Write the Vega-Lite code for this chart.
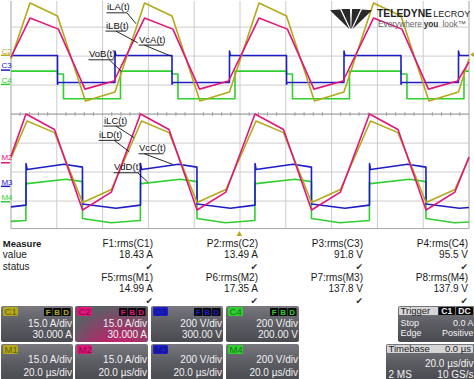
{
"$schema": "https://vega.github.io/schema/vega-lite/v6.json",
"padding": 0,
"background": "#ffffff",
"spacing": 0,
"bounds": "flush",
"config": {"view": {"stroke": null}, "font": "Liberation Sans"},
"datasets": {
"traces": [
{"ch":"C4","t":0,"v":1.48},{"ch":"C4","t":20.3,"v":1.48},{"ch":"C4","t":20.32,"v":1.38},{"ch":"C4","t":22.9,"v":1.38},{"ch":"C4","t":22.92,"v":0.53},{"ch":"C4","t":47.8,"v":0.53},{"ch":"C4","t":47.82,"v":1.48},{"ch":"C4","t":70.3,"v":1.48},{"ch":"C4","t":70.32,"v":1.38},{"ch":"C4","t":72.9,"v":1.38},{"ch":"C4","t":72.92,"v":0.53},{"ch":"C4","t":97.8,"v":0.53},{"ch":"C4","t":97.82,"v":1.48},{"ch":"C4","t":120.3,"v":1.48},{"ch":"C4","t":120.32,"v":1.38},{"ch":"C4","t":122.9,"v":1.38},{"ch":"C4","t":122.92,"v":0.53},{"ch":"C4","t":147.8,"v":0.53},{"ch":"C4","t":147.82,"v":1.48},{"ch":"C4","t":170.3,"v":1.48},{"ch":"C4","t":170.32,"v":1.38},{"ch":"C4","t":172.9,"v":1.38},{"ch":"C4","t":172.92,"v":0.53},{"ch":"C4","t":197.8,"v":0.53},{"ch":"C4","t":197.82,"v":1.48},{"ch":"C4","t":200,"v":1.48},
{"ch":"C3","t":0,"v":2.02},{"ch":"C3","t":20.3,"v":2.02},{"ch":"C3","t":20.32,"v":1.03},{"ch":"C3","t":20.6,"v":1.09},{"ch":"C3","t":45.4,"v":1.09},{"ch":"C3","t":45.42,"v":2.17},{"ch":"C3","t":45.8,"v":2.02},{"ch":"C3","t":70.3,"v":2.02},{"ch":"C3","t":70.32,"v":1.03},{"ch":"C3","t":70.6,"v":1.09},{"ch":"C3","t":95.4,"v":1.09},{"ch":"C3","t":95.42,"v":2.17},{"ch":"C3","t":95.8,"v":2.02},{"ch":"C3","t":120.3,"v":2.02},{"ch":"C3","t":120.32,"v":1.03},{"ch":"C3","t":120.6,"v":1.09},{"ch":"C3","t":145.4,"v":1.09},{"ch":"C3","t":145.42,"v":2.17},{"ch":"C3","t":145.8,"v":2.02},{"ch":"C3","t":170.3,"v":2.02},{"ch":"C3","t":170.32,"v":1.03},{"ch":"C3","t":170.6,"v":1.09},{"ch":"C3","t":195.4,"v":1.09},{"ch":"C3","t":195.42,"v":2.17},{"ch":"C3","t":195.8,"v":2.02},{"ch":"C3","t":200,"v":2.02},
{"ch":"C1","t":0,"v":1.9},{"ch":"C1","t":8.3,"v":3.83},{"ch":"C1","t":20.3,"v":3.38},{"ch":"C1","t":32.5,"v":0.45},{"ch":"C1","t":45.4,"v":0.76},{"ch":"C1","t":58.3,"v":3.83},{"ch":"C1","t":70.3,"v":3.38},{"ch":"C1","t":82.5,"v":0.45},{"ch":"C1","t":95.4,"v":0.76},{"ch":"C1","t":108.3,"v":3.83},{"ch":"C1","t":120.3,"v":3.38},{"ch":"C1","t":132.5,"v":0.45},{"ch":"C1","t":145.4,"v":0.76},{"ch":"C1","t":158.3,"v":3.83},{"ch":"C1","t":170.3,"v":3.38},{"ch":"C1","t":182.5,"v":0.45},{"ch":"C1","t":195.4,"v":0.76},{"ch":"C1","t":200,"v":1.9},
{"ch":"C2","t":0,"v":1.96},{"ch":"C2","t":8.3,"v":3.31},{"ch":"C2","t":20.7,"v":2.93},{"ch":"C2","t":32.3,"v":0.86},{"ch":"C2","t":45.0,"v":1.14},{"ch":"C2","t":58.3,"v":3.31},{"ch":"C2","t":70.7,"v":2.93},{"ch":"C2","t":82.3,"v":0.86},{"ch":"C2","t":95.0,"v":1.14},{"ch":"C2","t":108.3,"v":3.31},{"ch":"C2","t":120.7,"v":2.93},{"ch":"C2","t":132.3,"v":0.86},{"ch":"C2","t":145.0,"v":1.14},{"ch":"C2","t":158.3,"v":3.31},{"ch":"C2","t":170.7,"v":2.93},{"ch":"C2","t":182.3,"v":0.86},{"ch":"C2","t":195.0,"v":1.14},{"ch":"C2","t":200,"v":1.8},
{"ch":"M4","t":0,"v":-3.7},{"ch":"M4","t":6.5,"v":-3.67},{"ch":"M4","t":6.52,"v":-2.35},{"ch":"M4","t":7.0,"v":-2.4},{"ch":"M4","t":24.0,"v":-2.25},{"ch":"M4","t":31.2,"v":-2.33},{"ch":"M4","t":31.22,"v":-3.6},{"ch":"M4","t":43.65,"v":-3.75},{"ch":"M4","t":56.5,"v":-3.67},{"ch":"M4","t":56.52,"v":-2.35},{"ch":"M4","t":57.0,"v":-2.4},{"ch":"M4","t":74.0,"v":-2.25},{"ch":"M4","t":81.2,"v":-2.33},{"ch":"M4","t":81.22,"v":-3.6},{"ch":"M4","t":93.65,"v":-3.75},{"ch":"M4","t":106.5,"v":-3.67},{"ch":"M4","t":106.52,"v":-2.35},{"ch":"M4","t":107.0,"v":-2.4},{"ch":"M4","t":124.0,"v":-2.25},{"ch":"M4","t":131.2,"v":-2.33},{"ch":"M4","t":131.22,"v":-3.6},{"ch":"M4","t":143.65,"v":-3.75},{"ch":"M4","t":156.5,"v":-3.67},{"ch":"M4","t":156.52,"v":-2.35},{"ch":"M4","t":157.0,"v":-2.4},{"ch":"M4","t":174.0,"v":-2.25},{"ch":"M4","t":181.2,"v":-2.33},{"ch":"M4","t":181.22,"v":-3.6},{"ch":"M4","t":193.65,"v":-3.75},{"ch":"M4","t":200,"v":-3.72},
{"ch":"M3","t":0,"v":-3.2},{"ch":"M3","t":6.55,"v":-3.14},{"ch":"M3","t":6.57,"v":-1.71},{"ch":"M3","t":7.0,"v":-1.91},{"ch":"M3","t":23.15,"v":-1.73},{"ch":"M3","t":31.2,"v":-1.83},{"ch":"M3","t":31.22,"v":-3.1},{"ch":"M3","t":45.85,"v":-3.25},{"ch":"M3","t":56.55,"v":-3.14},{"ch":"M3","t":56.57,"v":-1.71},{"ch":"M3","t":57.0,"v":-1.91},{"ch":"M3","t":73.15,"v":-1.73},{"ch":"M3","t":81.2,"v":-1.83},{"ch":"M3","t":81.22,"v":-3.1},{"ch":"M3","t":95.85,"v":-3.25},{"ch":"M3","t":106.55,"v":-3.14},{"ch":"M3","t":106.57,"v":-1.71},{"ch":"M3","t":107.0,"v":-1.91},{"ch":"M3","t":123.15,"v":-1.73},{"ch":"M3","t":131.2,"v":-1.83},{"ch":"M3","t":131.22,"v":-3.1},{"ch":"M3","t":145.85,"v":-3.25},{"ch":"M3","t":156.55,"v":-3.14},{"ch":"M3","t":156.57,"v":-1.71},{"ch":"M3","t":157.0,"v":-1.91},{"ch":"M3","t":173.15,"v":-1.73},{"ch":"M3","t":181.2,"v":-1.83},{"ch":"M3","t":181.22,"v":-3.1},{"ch":"M3","t":195.85,"v":-3.25},{"ch":"M3","t":200,"v":-3.22},
{"ch":"M1","t":0,"v":-1.52},{"ch":"M1","t":7.0,"v":-0.24},{"ch":"M1","t":19.0,"v":-0.64},{"ch":"M1","t":31.25,"v":-3.05},{"ch":"M1","t":43.85,"v":-2.6},{"ch":"M1","t":57.0,"v":-0.24},{"ch":"M1","t":69.0,"v":-0.64},{"ch":"M1","t":81.25,"v":-3.05},{"ch":"M1","t":93.85,"v":-2.6},{"ch":"M1","t":107.0,"v":-0.24},{"ch":"M1","t":119.0,"v":-0.64},{"ch":"M1","t":131.25,"v":-3.05},{"ch":"M1","t":143.85,"v":-2.6},{"ch":"M1","t":157.0,"v":-0.24},{"ch":"M1","t":169.0,"v":-0.64},{"ch":"M1","t":181.25,"v":-3.05},{"ch":"M1","t":193.85,"v":-2.6},{"ch":"M1","t":200,"v":-1.52},
{"ch":"M2","t":0,"v":-1.45},{"ch":"M2","t":6.55,"v":0},{"ch":"M2","t":19.0,"v":-0.53},{"ch":"M2","t":31.25,"v":-3.31},{"ch":"M2","t":43.85,"v":-2.69},{"ch":"M2","t":56.55,"v":0},{"ch":"M2","t":69.0,"v":-0.53},{"ch":"M2","t":81.25,"v":-3.31},{"ch":"M2","t":93.85,"v":-2.69},{"ch":"M2","t":106.55,"v":0},{"ch":"M2","t":119.0,"v":-0.53},{"ch":"M2","t":131.25,"v":-3.31},{"ch":"M2","t":143.85,"v":-2.69},{"ch":"M2","t":156.55,"v":0},{"ch":"M2","t":169.0,"v":-0.53},{"ch":"M2","t":181.25,"v":-3.31},{"ch":"M2","t":193.85,"v":-2.69},{"ch":"M2","t":200,"v":-1.48}
],
"annot": [
{"label":"iLA(t)","tx":41.92,"ty":3.573,"ux1":41.7,"ux2":50.66,"uy":3.493,"lx1":50.66,"ly1":3.493,"lx2":54.59,"ly2":3.114},
{"label":"iLB(t)","tx":41.48,"ty":2.942,"ux1":41.27,"ux2":50.22,"uy":2.862,"lx1":45.85,"ly1":2.862,"lx2":55.33,"ly2":2.459},
{"label":"VcA(t)","tx":55.9,"ty":2.459,"ux1":55.68,"ux2":66.59,"uy":2.379,"lx1":58.21,"ly1":2.379,"lx2":69.87,"ly2":2.0},
{"label":"VoB(t)","tx":34.06,"ty":1.952,"ux1":33.84,"ux2":44.76,"uy":1.872,"lx1":42.93,"ly1":1.872,"lx2":48.34,"ly2":1.459},
{"label":"iLC(t)","tx":40.61,"ty":-0.334,"ux1":40.39,"ux2":49.56,"uy":-0.414,"lx1":45.85,"ly1":-0.414,"lx2":53.84,"ly2":-0.817},
{"label":"iLD(t)","tx":38.43,"ty":-0.827,"ux1":38.21,"ux2":47.38,"uy":-0.907,"lx1":45.11,"ly1":-0.907,"lx2":51.66,"ly2":-1.3},
{"label":"VcC(t)","tx":55.9,"ty":-1.289,"ux1":55.68,"ux2":66.59,"uy":-1.369,"lx1":58.21,"ly1":-1.369,"lx2":70.61,"ly2":-1.734},
{"label":"VdD(t)","tx":44.98,"ty":-1.944,"ux1":44.76,"ux2":55.68,"uy":-2.024,"lx1":55.33,"ly1":-2.024,"lx2":59.69,"ly2":-2.345}
],
"chlabels": [
{"text":"C2","ck":"C1","v":2.079,"uv":2.03},
{"text":"C3","ck":"C3","v":1.597,"uv":1.517},
{"text":"C4","ck":"C4","v":1.079,"uv":1.024},
{"text":"M2","ck":"M2","v":-1.597,"uv":-1.679},
{"text":"M3","ck":"M3","v":-2.448,"uv":-2.493},
{"text":"M4","ck":"M4","v":-2.966,"uv":-3.024}
],
"minor": [
{"t":4},{"t":8},{"t":12},{"t":16},{"t":24},{"t":28},{"t":32},{"t":36},{"t":44},{"t":48},{"t":52},{"t":56},{"t":64},{"t":68},{"t":72},{"t":76},{"t":84},{"t":88},{"t":92},{"t":96},
{"t":104},{"t":108},{"t":112},{"t":116},{"t":124},{"t":128},{"t":132},{"t":136},{"t":144},{"t":148},{"t":152},{"t":156},{"t":164},{"t":168},{"t":172},{"t":176},{"t":184},{"t":188},{"t":192},{"t":196}
],
"boxes": [
{"id":"C1","x0":0,"x1":0.96,"y0":0,"y1":0.973},
{"id":"C2","x0":0.987,"x1":1.96,"y0":0,"y1":0.973},
{"id":"C3","x0":2.0,"x1":2.96,"y0":0,"y1":0.973},
{"id":"C4","x0":3.0,"x1":3.973,"y0":0,"y1":0.973},
{"id":"M1","x0":0,"x1":0.96,"y0":1.027,"y1":2.0},
{"id":"M2","x0":0.987,"x1":1.96,"y0":1.027,"y1":2.0},
{"id":"M3","x0":2.0,"x1":2.96,"y0":1.027,"y1":2.0},
{"id":"M4","x0":3.0,"x1":3.973,"y0":1.027,"y1":2.0},
{"id":"Trigger","x0":5.293,"x1":6.32,"y0":0,"y1":0.973},
{"id":"Timebase","x0":5.133,"x1":6.32,"y0":1.027,"y1":2.0}
],
"tabs": [
{"ch":"C1","x0":0.027,"x1":0.227,"y0":0.027,"y1":0.27,"tx":0.047,"ty":0.243},
{"ch":"C2","x0":1.013,"x1":1.213,"y0":0.027,"y1":0.27,"tx":1.033,"ty":0.243},
{"ch":"C3","x0":2.027,"x1":2.227,"y0":0.027,"y1":0.27,"tx":2.047,"ty":0.243},
{"ch":"C4","x0":3.027,"x1":3.227,"y0":0.027,"y1":0.27,"tx":3.047,"ty":0.243},
{"ch":"M1","x0":0.027,"x1":0.227,"y0":1.054,"y1":1.297,"tx":0.047,"ty":1.27},
{"ch":"M2","x0":1.013,"x1":1.213,"y0":1.054,"y1":1.297,"tx":1.033,"ty":1.27},
{"ch":"M3","x0":2.027,"x1":2.227,"y0":1.054,"y1":1.297,"tx":2.047,"ty":1.27},
{"ch":"M4","x0":3.027,"x1":3.227,"y0":1.054,"y1":1.297,"tx":3.047,"ty":1.27}
],
"fbd": [
{"ch":"C1","l":"F","x0":0.573,"x1":0.687,"xc":0.63},{"ch":"C1","l":"B","x0":0.693,"x1":0.807,"xc":0.75},{"ch":"C1","l":"D","x0":0.813,"x1":0.927,"xc":0.87},
{"ch":"C2","l":"F","x0":1.573,"x1":1.687,"xc":1.63},{"ch":"C2","l":"B","x0":1.693,"x1":1.807,"xc":1.75},{"ch":"C2","l":"D","x0":1.813,"x1":1.927,"xc":1.87},
{"ch":"C3","l":"F","x0":2.573,"x1":2.687,"xc":2.63},{"ch":"C3","l":"B","x0":2.693,"x1":2.807,"xc":2.75},{"ch":"C3","l":"D","x0":2.813,"x1":2.927,"xc":2.87},
{"ch":"C4","l":"F","x0":3.587,"x1":3.7,"xc":3.643},{"ch":"C4","l":"B","x0":3.707,"x1":3.82,"xc":3.763},{"ch":"C4","l":"D","x0":3.827,"x1":3.94,"xc":3.883}
],
"boxtext": [
{"text":"15.0 A/div","x":0.947,"y":0.559},{"text":"30.000 A","x":0.947,"y":0.873},
{"text":"15.0 A/div","x":1.947,"y":0.559},{"text":"30.000 A","x":1.947,"y":0.873},
{"text":"200 V/div","x":2.947,"y":0.559},{"text":"300.00 V","x":2.947,"y":0.873},
{"text":"200 V/div","x":3.96,"y":0.559},{"text":"200.00 V","x":3.96,"y":0.873},
{"text":"15.0 A/div","x":0.947,"y":1.549},{"text":"20.0 µs/div","x":0.947,"y":1.892},
{"text":"15.0 A/div","x":1.947,"y":1.549},{"text":"20.0 µs/div","x":1.947,"y":1.892},
{"text":"200 V/div","x":2.947,"y":1.549},{"text":"20.0 µs/div","x":2.947,"y":1.892},
{"text":"200 V/div","x":3.96,"y":1.549},{"text":"20.0 µs/div","x":3.96,"y":1.892},
{"text":"20.0 µs/div","x":6.3,"y":1.649},{"text":"10 GS/s","x":6.3,"y":1.938}
],
"trigtext": [
{"text":"0.0 A","x":6.3,"y":0.541},{"text":"Positive","x":6.3,"y":0.818}
],
"trigtextleft": [
{"text":"Stop","x":5.327,"y":0.541},{"text":"Edge","x":5.327,"y":0.818}
],
"boxtextleft": [
{"text":"2 MS","x":5.167,"y":1.938}
],
"headers": [
{"x0":5.307,"x1":5.827,"y0":0.027,"y1":0.243},
{"x0":5.147,"x1":6.293,"y0":1.054,"y1":1.27}
],
"measure": [
{"row":1,"col":1,"text":"F1:rms(C1)"},{"row":1,"col":2,"text":"P2:rms(C2)"},{"row":1,"col":3,"text":"P3:rms(C3)"},{"row":1,"col":4,"text":"P4:rms(C4)"},
{"row":2,"col":1,"text":"18.43 A"},{"row":2,"col":2,"text":"13.49 A"},{"row":2,"col":3,"text":"91.8 V"},{"row":2,"col":4,"text":"95.5 V"},
{"row":4,"col":1,"text":"F5:rms(M1)"},{"row":4,"col":2,"text":"P6:rms(M2)"},{"row":4,"col":3,"text":"P7:rms(M3)"},{"row":4,"col":4,"text":"P8:rms(M4)"},
{"row":5,"col":1,"text":"14.99 A"},{"row":5,"col":2,"text":"17.35 A"},{"row":5,"col":3,"text":"137.8 V"},{"row":5,"col":4,"text":"137.9 V"}
],
"checks": [
{"row":3,"col":1},{"row":3,"col":2},{"row":3,"col":3},{"row":3,"col":4},
{"row":6,"col":1},{"row":6,"col":2},{"row":6,"col":3},{"row":6,"col":4}
]
},
"vconcat": [
{
"width": 474, "height": 236,
"layer": [
{"data":{"values":[{"t":20},{"t":40},{"t":60},{"t":80},{"t":100},{"t":120},{"t":140},{"t":160},{"t":180}]},
 "mark":{"type":"rule","color":"#cccccc","strokeWidth":1},
 "encoding":{"x":{"field":"t","type":"quantitative","scale":{"domain":[-4.367,202.62],"nice":false,"zero":false},"axis":null},
  "y":{"datum":-3.95,"type":"quantitative","scale":{"domain":[-4.24,3.9],"nice":false,"zero":false},"axis":null},"y2":{"datum":3.9}}},
{"data":{"values":[{"t":0},{"t":200}]},
 "mark":{"type":"rule","color":"#a4a4a4","strokeWidth":1},
 "encoding":{"x":{"field":"t","type":"quantitative","scale":{"domain":[-4.367,202.62],"nice":false,"zero":false},"axis":null},
  "y":{"datum":-3.95,"type":"quantitative","scale":{"domain":[-4.24,3.9],"nice":false,"zero":false},"axis":null},"y2":{"datum":3.9}}},
{"data":{"values":[{"v":3},{"v":2},{"v":1},{"v":-1},{"v":-2},{"v":-3}]},
 "mark":{"type":"rule","color":"#cccccc","strokeWidth":1},
 "encoding":{"y":{"field":"v","type":"quantitative","scale":{"domain":[-4.24,3.9],"nice":false,"zero":false},"axis":null},
  "x":{"datum":0,"type":"quantitative","scale":{"domain":[-4.367,202.62],"nice":false,"zero":false},"axis":null},"x2":{"datum":200}}},
{"data":{"values":[{"v":0}]},
 "mark":{"type":"rule","color":"#888888","strokeWidth":1},
 "encoding":{"y":{"field":"v","type":"quantitative","scale":{"domain":[-4.24,3.9],"nice":false,"zero":false},"axis":null},
  "x":{"datum":0,"type":"quantitative","scale":{"domain":[-4.367,202.62],"nice":false,"zero":false},"axis":null},"x2":{"datum":200}}},
{"data":{"name":"minor"},
 "mark":{"type":"tick","orient":"vertical","color":"#8a8a8a","size":4,"thickness":1},
 "encoding":{"x":{"field":"t","type":"quantitative","scale":{"domain":[-4.367,202.62],"nice":false,"zero":false},"axis":null},
  "y":{"datum":0,"type":"quantitative","scale":{"domain":[-4.24,3.9],"nice":false,"zero":false},"axis":null}}},
{"data":{"values":[{"v":-3.95}]},
 "mark":{"type":"rule","color":"#a4a4a4","strokeWidth":1},
 "encoding":{"y":{"field":"v","type":"quantitative","scale":{"domain":[-4.24,3.9],"nice":false,"zero":false},"axis":null},
  "x":{"datum":0,"type":"quantitative","scale":{"domain":[-4.367,202.62],"nice":false,"zero":false},"axis":null},"x2":{"datum":200}}},
{"data":{"name":"traces"},
 "mark":{"type":"line","strokeWidth":1.6,"clip":true,"strokeJoin":"round"},
 "encoding":{"x":{"field":"t","type":"quantitative","scale":{"domain":[-4.367,202.62],"nice":false,"zero":false},"axis":null},
  "y":{"field":"v","type":"quantitative","scale":{"domain":[-4.24,3.9],"nice":false,"zero":false},"axis":null},
  "color":{"field":"ch","type":"nominal","scale":{"domain":["C1","C2","C3","C4","M1","M2","M3","M4"],"range":["#b3a91a","#e0167a","#1c1cc8","#2fcf2f","#b3a91a","#e0167a","#1c1cc8","#2fcf2f"]},"legend":null}}},
{"data":{"name":"annot"},
 "mark":{"type":"rule","color":"#111111","strokeWidth":0.9},
 "encoding":{"x":{"field":"ux1","type":"quantitative","scale":{"domain":[-4.367,202.62],"nice":false,"zero":false},"axis":null},"x2":{"field":"ux2"},
  "y":{"field":"uy","type":"quantitative","scale":{"domain":[-4.24,3.9],"nice":false,"zero":false},"axis":null}}},
{"data":{"name":"annot"},
 "mark":{"type":"rule","color":"#111111","strokeWidth":0.9},
 "encoding":{"x":{"field":"lx1","type":"quantitative","scale":{"domain":[-4.367,202.62],"nice":false,"zero":false},"axis":null},"x2":{"field":"lx2"},
  "y":{"field":"ly1","type":"quantitative","scale":{"domain":[-4.24,3.9],"nice":false,"zero":false},"axis":null},"y2":{"field":"ly2"}}},
{"data":{"name":"annot"},
 "mark":{"type":"text","align":"left","baseline":"alphabetic","fontSize":9.5,"color":"#111111"},
 "encoding":{"x":{"field":"tx","type":"quantitative","scale":{"domain":[-4.367,202.62],"nice":false,"zero":false},"axis":null},
  "y":{"field":"ty","type":"quantitative","scale":{"domain":[-4.24,3.9],"nice":false,"zero":false},"axis":null},
  "text":{"field":"label"}}},
{"data":{"name":"chlabels"},
 "mark":{"type":"rule","strokeWidth":1.5},
 "encoding":{"x":{"datum":-4.367,"type":"quantitative","scale":{"domain":[-4.367,202.62],"nice":false,"zero":false},"axis":null},"x2":{"datum":-0.4},
  "y":{"field":"uv","type":"quantitative","scale":{"domain":[-4.24,3.9],"nice":false,"zero":false},"axis":null},
  "color":{"field":"ck","type":"nominal","scale":{"domain":["C1","C2","C3","C4","M1","M2","M3","M4"],"range":["#b3a91a","#e0167a","#1c1cc8","#2fcf2f","#b3a91a","#e0167a","#1c1cc8","#2fcf2f"]},"legend":null}}},
{"data":{"name":"chlabels"},
 "mark":{"type":"text","align":"left","baseline":"alphabetic","fontSize":8},
 "encoding":{"x":{"datum":-4.2,"type":"quantitative","scale":{"domain":[-4.367,202.62],"nice":false,"zero":false},"axis":null},
  "y":{"field":"v","type":"quantitative","scale":{"domain":[-4.24,3.9],"nice":false,"zero":false},"axis":null},
  "text":{"field":"text"},
  "color":{"field":"ck","type":"nominal","scale":{"domain":["C1","C2","C3","C4","M1","M2","M3","M4"],"range":["#b3a91a","#e0167a","#1c1cc8","#2fcf2f","#b3a91a","#e0167a","#1c1cc8","#2fcf2f"]},"legend":null}}},
{"data":{"values":[{"t":148.47,"v":3.276}]},
 "mark":{"type":"point","filled":true,"color":"#2a2a2a","opacity":1,"size":1764,"shape":"M-1,-0.42L-0.52,-0.46L-0.07,0.48Z M-0.46,-0.48L-0.05,-0.48L-0.01,0.48Z M0.05,-0.48L0.46,-0.48L0.01,0.48Z M0.52,-0.46L1,-0.42L0.07,0.48Z"},
 "encoding":{"x":{"field":"t","type":"quantitative","scale":{"domain":[-4.367,202.62],"nice":false,"zero":false},"axis":null},
  "y":{"field":"v","type":"quantitative","scale":{"domain":[-4.24,3.9],"nice":false,"zero":false},"axis":null}}},
{"data":{"values":[{"text":"TELEDYNE","t":159.83,"v":3.335}]},
 "mark":{"type":"text","align":"left","baseline":"alphabetic","fontSize":10.3,"fontWeight":"bold","color":"#222222"},
 "encoding":{"x":{"field":"t","type":"quantitative","scale":{"domain":[-4.367,202.62],"nice":false,"zero":false},"axis":null},
  "y":{"field":"v","type":"quantitative","scale":{"domain":[-4.24,3.9],"nice":false,"zero":false},"axis":null},"text":{"field":"text"}}},
{"data":{"values":[{"text":"LECROY","t":200.6,"v":3.335}]},
 "mark":{"type":"text","align":"right","baseline":"alphabetic","fontSize":9,"color":"#222222"},
 "encoding":{"x":{"field":"t","type":"quantitative","scale":{"domain":[-4.367,202.62],"nice":false,"zero":false},"axis":null},
  "y":{"field":"v","type":"quantitative","scale":{"domain":[-4.24,3.9],"nice":false,"zero":false},"axis":null},"text":{"field":"text"}}},
{"data":{"values":[{"text":"Everywhere","t":160.26,"v":3.0},{"text":"look™","t":188.4,"v":3.0}]},
 "mark":{"type":"text","align":"left","baseline":"alphabetic","fontSize":8.3,"color":"#666666"},
 "encoding":{"x":{"field":"t","type":"quantitative","scale":{"domain":[-4.367,202.62],"nice":false,"zero":false},"axis":null},
  "y":{"field":"v","type":"quantitative","scale":{"domain":[-4.24,3.9],"nice":false,"zero":false},"axis":null},"text":{"field":"text"}}},
{"data":{"values":[{"text":"you","t":180.2,"v":3.0}]},
 "mark":{"type":"text","align":"left","baseline":"alphabetic","fontSize":8.3,"fontWeight":"bold","color":"#333333"},
 "encoding":{"x":{"field":"t","type":"quantitative","scale":{"domain":[-4.367,202.62],"nice":false,"zero":false},"axis":null},
  "y":{"field":"v","type":"quantitative","scale":{"domain":[-4.24,3.9],"nice":false,"zero":false},"axis":null},"text":{"field":"text"}}},
{"data":{"values":[{"t":201.6,"v":2.05}]},
 "mark":{"type":"point","shape":"triangle-left","filled":true,"color":"#b8ac12","opacity":1,"size":40},
 "encoding":{"x":{"field":"t","type":"quantitative","scale":{"domain":[-4.367,202.62],"nice":false,"zero":false},"axis":null},
  "y":{"field":"v","type":"quantitative","scale":{"domain":[-4.24,3.9],"nice":false,"zero":false},"axis":null}}},
{"data":{"values":[{"t":99.7,"v":-4.12}]},
 "mark":{"type":"point","shape":"triangle-up","filled":true,"color":"#b8ac12","opacity":1,"size":32},
 "encoding":{"x":{"field":"t","type":"quantitative","scale":{"domain":[-4.367,202.62],"nice":false,"zero":false},"axis":null},
  "y":{"field":"v","type":"quantitative","scale":{"domain":[-4.24,3.9],"nice":false,"zero":false},"axis":null}}}
]
},
{
"width": 474, "height": 69,
"layer": [
{"data":{"name":"measure"},
 "mark":{"type":"text","align":"right","baseline":"alphabetic","fontSize":10,"color":"#1a1a1a"},
 "encoding":{"x":{"field":"col","type":"quantitative","scale":{"domain":[-0.4476,4.0667],"nice":false,"zero":false},"axis":null},
  "y":{"field":"row","type":"quantitative","scale":{"domain":[0.115,6.221],"nice":false,"zero":false,"reverse":true},"axis":null},
  "text":{"field":"text"}}},
{"data":{"name":"checks"},
 "mark":{"type":"text","align":"right","baseline":"alphabetic","fontSize":9,"color":"#2a2a2a","font":"DejaVu Sans"},
 "encoding":{"x":{"field":"col","type":"quantitative","scale":{"domain":[-0.4476,4.0667],"nice":false,"zero":false},"axis":null},
  "y":{"field":"row","type":"quantitative","scale":{"domain":[0.115,6.221],"nice":false,"zero":false,"reverse":true},"axis":null},
  "text":{"value":"✔"}}},
{"data":{"values":[{"row":1,"text":"Measure"}]},
 "mark":{"type":"text","align":"left","baseline":"alphabetic","fontSize":9.5,"fontWeight":"bold","color":"#1a1a1a"},
 "encoding":{"x":{"datum":-0.43,"type":"quantitative","scale":{"domain":[-0.4476,4.0667],"nice":false,"zero":false},"axis":null},
  "y":{"field":"row","type":"quantitative","scale":{"domain":[0.115,6.221],"nice":false,"zero":false,"reverse":true},"axis":null},
  "text":{"field":"text"}}},
{"data":{"values":[{"row":2,"text":"value"},{"row":3,"text":"status"}]},
 "mark":{"type":"text","align":"left","baseline":"alphabetic","fontSize":10,"color":"#1a1a1a"},
 "encoding":{"x":{"datum":-0.43,"type":"quantitative","scale":{"domain":[-0.4476,4.0667],"nice":false,"zero":false},"axis":null},
  "y":{"field":"row","type":"quantitative","scale":{"domain":[0.115,6.221],"nice":false,"zero":false,"reverse":true},"axis":null},
  "text":{"field":"text"}}}
]
},
{
"width": 474, "height": 74,
"layer": [
{"data":{"name":"boxes"},
 "transform":[{"filter":"datum.id != 'C2'"}],
 "mark":{"type":"rect","cornerRadius":2,"color":{"gradient":"linear","x1":0,"y1":0,"x2":0,"y2":1,"stops":[{"offset":0,"color":"#78787e"},{"offset":0.5,"color":"#5c5c63"},{"offset":1,"color":"#4a4a51"}]}},
 "encoding":{"x":{"field":"x0","type":"quantitative","scale":{"domain":[0,6.32],"nice":false,"zero":false},"axis":null},"x2":{"field":"x1"},
  "y":{"field":"y0","type":"quantitative","scale":{"domain":[0,2],"nice":false,"zero":false,"reverse":true},"axis":null},"y2":{"field":"y1"}}},
{"data":{"name":"boxes"},
 "transform":[{"filter":"datum.id == 'C2'"}],
 "mark":{"type":"rect","cornerRadius":2,"color":{"gradient":"radial","x1":0.6,"y1":1,"r1":0,"x2":0.6,"y2":1,"r2":0.75,"stops":[{"offset":0,"color":"#f0157e"},{"offset":0.45,"color":"#b02a6a"},{"offset":1,"color":"#5e5e65"}]}},
 "encoding":{"x":{"field":"x0","type":"quantitative","scale":{"domain":[0,6.32],"nice":false,"zero":false},"axis":null},"x2":{"field":"x1"},
  "y":{"field":"y0","type":"quantitative","scale":{"domain":[0,2],"nice":false,"zero":false,"reverse":true},"axis":null},"y2":{"field":"y1"}}},
{"data":{"name":"tabs"},
 "mark":{"type":"rect","cornerRadius":1.5},
 "encoding":{"x":{"field":"x0","type":"quantitative","scale":{"domain":[0,6.32],"nice":false,"zero":false},"axis":null},"x2":{"field":"x1"},
  "y":{"field":"y0","type":"quantitative","scale":{"domain":[0,2],"nice":false,"zero":false,"reverse":true},"axis":null},"y2":{"field":"y1"},
  "color":{"field":"ch","type":"nominal","scale":{"domain":["C1","C2","C3","C4","M1","M2","M3","M4"],"range":["#c8c01a","#ea157e","#1414e2","#22e822","#c8c01a","#ea157e","#1414e2","#22e822"]},"legend":null}}},
{"data":{"name":"tabs"},
 "mark":{"type":"text","align":"left","baseline":"alphabetic","fontSize":9.5,"color":"#000000","opacity":0.45},
 "encoding":{"x":{"field":"tx","type":"quantitative","scale":{"domain":[0,6.32],"nice":false,"zero":false},"axis":null},
  "y":{"field":"ty","type":"quantitative","scale":{"domain":[0,2],"nice":false,"zero":false,"reverse":true},"axis":null},
  "text":{"field":"ch"}}},
{"data":{"name":"fbd"},
 "mark":{"type":"rect","color":"#0a0a0a","cornerRadius":1},
 "encoding":{"x":{"field":"x0","type":"quantitative","scale":{"domain":[0,6.32],"nice":false,"zero":false},"axis":null},"x2":{"field":"x1"},
  "y":{"datum":0.054,"type":"quantitative","scale":{"domain":[0,2],"nice":false,"zero":false,"reverse":true},"axis":null},"y2":{"datum":0.27}}},
{"data":{"name":"fbd"},
 "mark":{"type":"text","align":"center","baseline":"alphabetic","fontSize":8,"fontWeight":"bold"},
 "encoding":{"x":{"field":"xc","type":"quantitative","scale":{"domain":[0,6.32],"nice":false,"zero":false},"axis":null},
  "y":{"datum":0.243,"type":"quantitative","scale":{"domain":[0,2],"nice":false,"zero":false,"reverse":true},"axis":null},
  "text":{"field":"l"},
  "color":{"field":"ch","type":"nominal","scale":{"domain":["C1","C2","C3","C4","M1","M2","M3","M4"],"range":["#c8c01a","#ea157e","#1414e2","#22e822","#c8c01a","#ea157e","#1414e2","#22e822"]},"legend":null}}},
{"data":{"name":"headers"},
 "mark":{"type":"rect","color":"#d6d6d6","cornerRadius":1},
 "encoding":{"x":{"field":"x0","type":"quantitative","scale":{"domain":[0,6.32],"nice":false,"zero":false},"axis":null},"x2":{"field":"x1"},
  "y":{"field":"y0","type":"quantitative","scale":{"domain":[0,2],"nice":false,"zero":false,"reverse":true},"axis":null},"y2":{"field":"y1"}}},
{"data":{"values":[{"x0":5.833,"x1":6.053,"xc":5.943,"text":"C1"},{"x0":6.067,"x1":6.293,"xc":6.18,"text":"DC"}]},
 "layer":[
  {"mark":{"type":"rect","color":"#0a0a0a","cornerRadius":1},
   "encoding":{"x":{"field":"x0","type":"quantitative","scale":{"domain":[0,6.32],"nice":false,"zero":false},"axis":null},"x2":{"field":"x1"},
    "y":{"datum":0.027,"type":"quantitative","scale":{"domain":[0,2],"nice":false,"zero":false,"reverse":true},"axis":null},"y2":{"datum":0.243}}},
  {"mark":{"type":"text","align":"center","baseline":"alphabetic","fontSize":8.5,"fontWeight":"bold","color":"#f0f0f0"},
   "encoding":{"x":{"field":"xc","type":"quantitative","scale":{"domain":[0,6.32],"nice":false,"zero":false},"axis":null},
    "y":{"datum":0.22,"type":"quantitative","scale":{"domain":[0,2],"nice":false,"zero":false,"reverse":true},"axis":null},
    "text":{"field":"text"}}}
 ]},
{"data":{"values":[{"text":"Trigger","x":5.327,"y":0.222},{"text":"Timebase","x":5.167,"y":1.245}]},
 "mark":{"type":"text","align":"left","baseline":"alphabetic","fontSize":9.5,"color":"#222222"},
 "encoding":{"x":{"field":"x","type":"quantitative","scale":{"domain":[0,6.32],"nice":false,"zero":false},"axis":null},
  "y":{"field":"y","type":"quantitative","scale":{"domain":[0,2],"nice":false,"zero":false,"reverse":true},"axis":null},
  "text":{"field":"text"}}},
{"data":{"values":[{"text":"0.0 µs","x":6.267,"y":1.245}]},
 "mark":{"type":"text","align":"right","baseline":"alphabetic","fontSize":9.5,"color":"#222222"},
 "encoding":{"x":{"field":"x","type":"quantitative","scale":{"domain":[0,6.32],"nice":false,"zero":false},"axis":null},
  "y":{"field":"y","type":"quantitative","scale":{"domain":[0,2],"nice":false,"zero":false,"reverse":true},"axis":null},
  "text":{"field":"text"}}},
{"data":{"name":"boxtext"},
 "mark":{"type":"text","align":"right","baseline":"alphabetic","fontSize":10,"color":"#f2f2f2"},
 "encoding":{"x":{"field":"x","type":"quantitative","scale":{"domain":[0,6.32],"nice":false,"zero":false},"axis":null},
  "y":{"field":"y","type":"quantitative","scale":{"domain":[0,2],"nice":false,"zero":false,"reverse":true},"axis":null},
  "text":{"field":"text"}}},
{"data":{"name":"boxtextleft"},
 "mark":{"type":"text","align":"left","baseline":"alphabetic","fontSize":10,"color":"#f2f2f2"},
 "encoding":{"x":{"field":"x","type":"quantitative","scale":{"domain":[0,6.32],"nice":false,"zero":false},"axis":null},
  "y":{"field":"y","type":"quantitative","scale":{"domain":[0,2],"nice":false,"zero":false,"reverse":true},"axis":null},
  "text":{"field":"text"}}},
{"data":{"name":"trigtext"},
 "mark":{"type":"text","align":"right","baseline":"alphabetic","fontSize":9,"color":"#f2f2f2"},
 "encoding":{"x":{"field":"x","type":"quantitative","scale":{"domain":[0,6.32],"nice":false,"zero":false},"axis":null},
  "y":{"field":"y","type":"quantitative","scale":{"domain":[0,2],"nice":false,"zero":false,"reverse":true},"axis":null},
  "text":{"field":"text"}}},
{"data":{"name":"trigtextleft"},
 "mark":{"type":"text","align":"left","baseline":"alphabetic","fontSize":9,"color":"#f2f2f2"},
 "encoding":{"x":{"field":"x","type":"quantitative","scale":{"domain":[0,6.32],"nice":false,"zero":false},"axis":null},
  "y":{"field":"y","type":"quantitative","scale":{"domain":[0,2],"nice":false,"zero":false,"reverse":true},"axis":null},
  "text":{"field":"text"}}}
]
}
]
}
